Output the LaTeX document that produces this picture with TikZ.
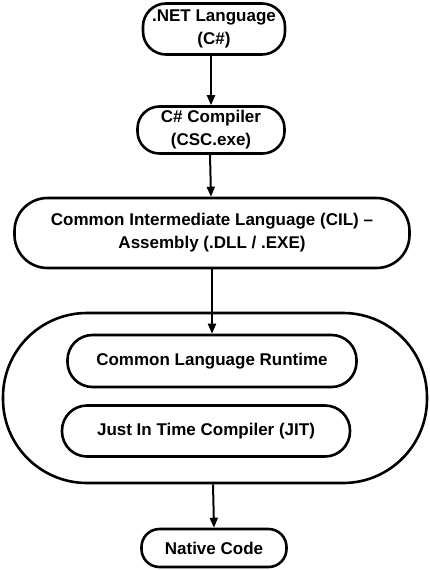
\documentclass[tikz,border=0pt]{standalone}
\usepackage{fontspec}
\setmainfont{Liberation Sans}
\usetikzlibrary{arrows.meta}
\begin{document}
\begin{tikzpicture}[x=1pt,y=-1pt,
  box/.style={draw=black, line width=2.6pt, fill=white, inner sep=0pt,
    align=center, font=\fontsize{17}{23}\selectfont\bfseries},
  flow/.style={line width=2pt, -{Triangle[length=10pt,width=8pt]}}]
\useasboundingbox (0,0) rectangle (429,570);
\node[box, rounded corners=23pt, minimum width=142pt, minimum height=51pt] (net) at (214,29) {.NET Language\\(C\#)};
\node[box, rounded corners=22pt, minimum width=147pt, minimum height=47pt] (csc) at (211,130) {C\# Compiler\\(CSC.exe)};
\node[box, rounded corners=33pt, minimum width=395pt, minimum height=70pt] (cil) at (212,233) {Common Intermediate Language (CIL) --\\Assembly (.DLL / .EXE)};
\node[box, rounded corners=84pt, minimum width=424pt, minimum height=170pt] (rt) at (215,398) {};
\node[box, rounded corners=25pt, minimum width=289pt, minimum height=52pt] (clr) at (212,361) {Common Language Runtime};
\node[box, rounded corners=25pt, minimum width=288pt, minimum height=51pt] (jit) at (206,431) {Just In Time Compiler (JIT)};
\node[box, rounded corners=18pt, minimum width=145pt, minimum height=38pt] (nat) at (214,548) {Native Code};
\draw[flow] (net.south -| 211,0) -- (csc.north -| 211,0);
\draw[flow] (csc.south -| 210,0) -- (cil.north -| 211,0);
\draw[flow] (cil.south -| 212,0) -- (clr.north -| 212,0);
\draw[flow] (rt.south -| 213,0) -- (nat.north -| 214,0);
\end{tikzpicture}
\end{document}
